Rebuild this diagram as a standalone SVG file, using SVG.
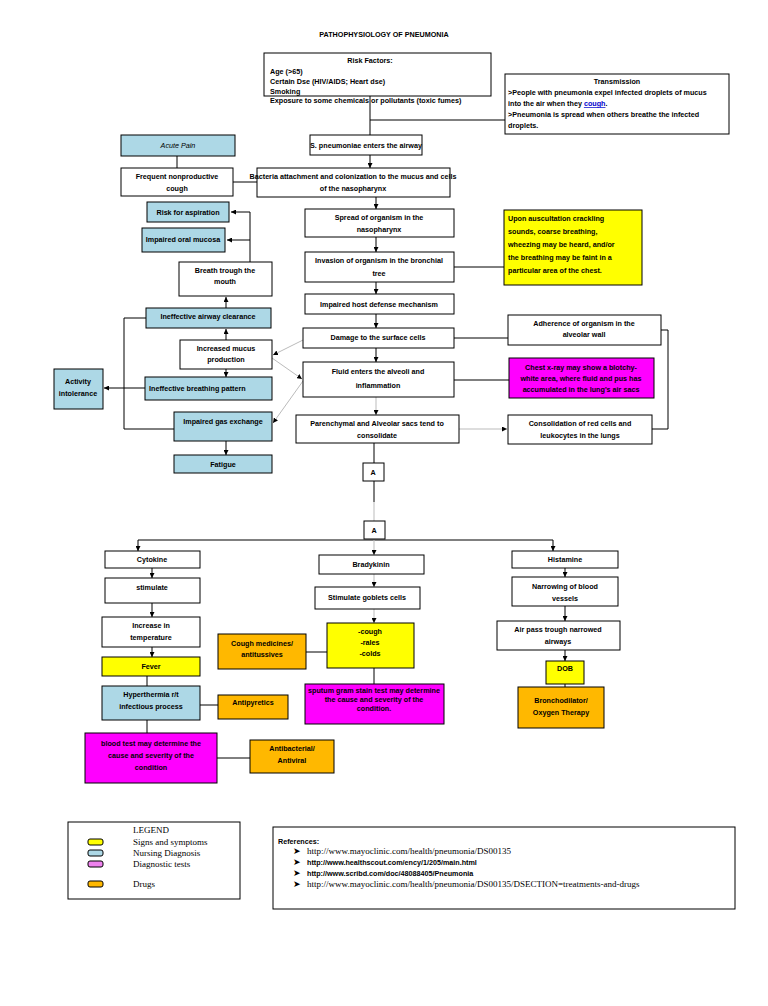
<svg xmlns="http://www.w3.org/2000/svg" width="768" height="1006" viewBox="0 0 768 1006">
<style>
text{font-family:"Liberation Sans",Arial,sans-serif;font-size:7.2px;font-weight:bold;fill:#000}
.b{fill:#fff;stroke:#000;stroke-width:1}
.bl{fill:#add8e6;stroke:#000;stroke-width:1}
.y{fill:#ffff00;stroke:#000;stroke-width:1}
.m{fill:#ff00ff;stroke:#000;stroke-width:1}
.o{fill:#ffb800;stroke:#000;stroke-width:1}
.c line,.c polyline{stroke:#000;stroke-width:1;fill:none}
.c .g{stroke:#bbb}
.s{font-family:"Liberation Serif","Times New Roman",serif;font-weight:normal;font-size:9px}
.n{font-weight:normal}
</style>
<defs><marker id="a" viewBox="0 0 6 6" refX="6" refY="3" markerWidth="5" markerHeight="5" orient="auto"><path d="M0,0L6,3L0,6z" fill="#000"/></marker></defs>
<rect width="768" height="1006" fill="#fff"/>
<text x="384" y="37" text-anchor="middle">PATHOPHYSIOLOGY OF PNEUMONIA</text>
<g class="c">
<line x1="370" y1="96" x2="370" y2="135"/><line x1="370" y1="120" x2="505" y2="120"/>
<line x1="370" y1="155" x2="370" y2="168" marker-end="url(#a)"/>
<line x1="177" y1="156" x2="177" y2="168"/><line x1="233" y1="182" x2="257" y2="182"/>
<line x1="376" y1="197" x2="376" y2="209" marker-end="url(#a)"/>
<line x1="376" y1="237" x2="376" y2="252" marker-end="url(#a)"/>
<line x1="376" y1="282" x2="376" y2="294" marker-end="url(#a)"/>
<line x1="376" y1="314" x2="376" y2="328" marker-end="url(#a)"/>
<line x1="376" y1="348" x2="376" y2="362" marker-end="url(#a)"/>
<line class="g" x1="376" y1="397" x2="376" y2="415" marker-end="url(#a)"/>
<line x1="454" y1="267" x2="504" y2="267"/>
<polyline points="250,262 250,212 231,212" marker-end="url(#a)"/>
<line x1="250" y1="240" x2="227" y2="240" marker-end="url(#a)"/>
<line x1="226" y1="308" x2="226" y2="297" marker-end="url(#a)"/>
<line x1="226" y1="340" x2="226" y2="329" marker-end="url(#a)"/>
<line x1="226" y1="369" x2="226" y2="377" marker-end="url(#a)"/>
<polyline points="146,318 124,318 124,429 174,429"/>
<line x1="145" y1="388" x2="104" y2="388" marker-end="url(#a)"/>
<line class="g" x1="303" y1="340" x2="273" y2="355" marker-end="url(#a)"/>
<line class="g" x1="272" y1="358" x2="302" y2="379" marker-end="url(#a)"/>
<line class="g" x1="303" y1="381" x2="273" y2="423" marker-end="url(#a)"/>
<line x1="226" y1="441" x2="226" y2="455" marker-end="url(#a)"/>
<line x1="454" y1="338" x2="508" y2="338"/>
<polyline points="661,330 668,330 668,429 652,429"/>
<line x1="454" y1="380" x2="509" y2="380"/>
<line class="g" x1="459" y1="429" x2="507" y2="429" marker-end="url(#a)"/>
<line x1="374" y1="443" x2="374" y2="463"/>
<line x1="374" y1="481" x2="374" y2="502"/><line class="g" x1="374" y1="502" x2="374" y2="521"/>
<line x1="138" y1="540" x2="553" y2="540"/>
<line x1="138" y1="540" x2="138" y2="551" marker-end="url(#a)"/>
<line class="g" x1="374" y1="540" x2="374" y2="555" marker-end="url(#a)"/>
<line x1="553" y1="540" x2="553" y2="551" marker-end="url(#a)"/>
<line x1="152" y1="568" x2="152" y2="578" marker-end="url(#a)"/>
<line x1="152" y1="603" x2="152" y2="617" marker-end="url(#a)"/>
<line x1="152" y1="647" x2="152" y2="657" marker-end="url(#a)"/>
<line x1="147" y1="676" x2="147" y2="686"/><line x1="147" y1="720" x2="147" y2="733"/>
<line x1="200" y1="705" x2="218" y2="705"/><line x1="217" y1="758" x2="250" y2="758"/>
<line class="g" x1="374" y1="574" x2="374" y2="587" marker-end="url(#a)"/>
<line class="g" x1="374" y1="609" x2="374" y2="623" marker-end="url(#a)"/>
<line x1="306" y1="652" x2="327" y2="652"/><line x1="374" y1="668" x2="374" y2="684"/>
<line x1="565" y1="568" x2="565" y2="577" marker-end="url(#a)"/>
<line x1="565" y1="606" x2="565" y2="621" marker-end="url(#a)"/>
<line x1="565" y1="650" x2="565" y2="661" marker-end="url(#a)"/>
<line x1="565" y1="684" x2="565" y2="687"/>
</g>
<g id="risk"><rect class="b" x="264" y="53" width="227" height="43"/><text x="370" y="63" text-anchor="middle">Risk Factors:</text><text x="270" y="74">Age (&gt;65)</text><text x="270" y="84">Certain Dse (HIV/AIDS; Heart dse)</text><text x="270" y="94">Smoking</text><text x="270" y="104" dy="-1">Exposure to some chemicals or pollutants (toxic fumes)</text></g>
<g id="trans"><rect class="b" x="505" y="74" width="224" height="60"/><text x="617" y="84" text-anchor="middle">Transmission</text><text x="508" y="95">&gt;People with pneumonia expel infected droplets of mucus</text><text x="508" y="106">into the air when they <tspan fill="#00c" text-decoration="underline">cough</tspan>.</text><text x="508" y="117">&gt;Pneumonia is spread when others breathe the infected</text><text x="508" y="128">droplets.</text></g>
<g id="pain"><rect class="bl" x="121" y="135" width="114" height="21"/><text x="178" y="148" text-anchor="middle" font-style="italic" class="n">Acute Pain</text></g>
<g id="spn"><rect class="b" x="310" y="135" width="112" height="20"/><text x="366" y="148" text-anchor="middle">S. pneumoniae enters the airway</text></g>
<g id="fnc"><rect class="b" x="121" y="168" width="112" height="28"/><text x="177" y="179" text-anchor="middle">Frequent nonproductive</text><text x="177" y="191" text-anchor="middle">cough</text></g>
<g id="bact"><rect class="b" x="257" y="168" width="193" height="29"/><text x="353" y="179" text-anchor="middle">Bacteria attachment and colonization to the mucus and cells</text><text x="353" y="191" text-anchor="middle">of the nasopharynx</text></g>
<g id="rasp"><rect class="bl" x="147" y="202" width="82" height="20"/><text x="188" y="215" text-anchor="middle">Risk for aspiration</text></g>
<g id="iom"><rect class="bl" x="142" y="228" width="83" height="24"/><text x="183" y="242" text-anchor="middle">Impaired oral mucosa</text></g>
<g id="spread"><rect class="b" x="305" y="209" width="149" height="28"/><text x="379" y="220" text-anchor="middle">Spread of organism in the</text><text x="379" y="232" text-anchor="middle">nasopharynx</text></g>
<g id="ausc"><rect class="y" x="504" y="210" width="138" height="75"/><text x="508" y="221">Upon auscultation crackling</text><text x="508" y="234">sounds, coarse breathing,</text><text x="508" y="247">wheezing may be heard, and/or</text><text x="508" y="260">the breathing may be faint in a</text><text x="508" y="273">particular area of the chest.</text></g>
<g id="inv"><rect class="b" x="305" y="252" width="149" height="30"/><text x="379" y="263" text-anchor="middle">Invasion of organism in the bronchial</text><text x="379" y="276" text-anchor="middle">tree</text></g>
<g id="btm"><rect class="b" x="179" y="262" width="93" height="34"/><text x="225" y="273" text-anchor="middle">Breath trough the</text><text x="225" y="284" text-anchor="middle">mouth</text></g>
<g id="ihd"><rect class="b" x="305" y="294" width="149" height="20"/><text x="379" y="307" text-anchor="middle">Impaired host defense mechanism</text></g>
<g id="iac"><rect class="bl" x="146" y="308" width="125" height="20"/><text x="208" y="319" text-anchor="middle">Ineffective airway clearance</text></g>
<g id="dmg"><rect class="b" x="303" y="328" width="151" height="20"/><text x="378" y="340" text-anchor="middle">Damage to the surface cells</text></g>
<g id="adh"><rect class="b" x="508" y="315" width="153" height="30"/><text x="584" y="326" text-anchor="middle">Adherence of organism in the</text><text x="584" y="337" text-anchor="middle">alveolar wall</text></g>
<g id="imp"><rect class="b" x="180" y="340" width="92" height="29"/><text x="226" y="351" text-anchor="middle">Increased mucus</text><text x="226" y="362" text-anchor="middle">production</text></g>
<g id="fluid"><rect class="b" x="303" y="362" width="151" height="35"/><text x="378" y="374" text-anchor="middle" font-size="8.5">Fluid enters the alveoli and</text><text x="378" y="388" text-anchor="middle" font-size="8.5">inflammation</text></g>
<g id="cxr"><rect class="m" x="509" y="358" width="145" height="40"/><text x="581" y="370" text-anchor="middle">Chest x-ray may show a blotchy-</text><text x="581" y="381" text-anchor="middle">white area, where fluid and pus has</text><text x="581" y="392" text-anchor="middle">accumulated in the lung's air sacs</text></g>
<g id="ai"><rect class="bl" x="54" y="369" width="49" height="40"/><text x="78" y="384" text-anchor="middle">Activity</text><text x="78" y="396" text-anchor="middle">intolerance</text></g>
<g id="ibp"><rect class="bl" x="145" y="377" width="127" height="23"/><text x="149" y="391">Ineffective   breathing pattern</text></g>
<g id="ige"><rect class="bl" x="174" y="412" width="98" height="29"/><text x="223" y="424" text-anchor="middle">Impaired gas exchange</text></g>
<g id="par"><rect class="b" x="296" y="415" width="163" height="28"/><text x="377" y="426" text-anchor="middle">Parenchymal and Alveolar sacs tend to</text><text x="377" y="438" text-anchor="middle">consolidate</text></g>
<g id="cons"><rect class="b" x="508" y="415" width="144" height="29"/><text x="580" y="426" text-anchor="middle">Consolidation of red cells and</text><text x="580" y="438" text-anchor="middle">leukocytes in the lungs</text></g>
<g id="fat"><rect class="bl" x="174" y="455" width="98" height="18"/><text x="223" y="467" text-anchor="middle">Fatigue</text></g>
<g id="a1"><rect class="b" x="363" y="463" width="21" height="18"/><text x="373" y="475" text-anchor="middle">A</text></g>
<g id="a2"><rect class="b" x="364" y="521" width="21" height="18"/><text x="374" y="533" text-anchor="middle">A</text></g>
<g id="cyt"><rect class="b" x="105" y="551" width="95" height="17"/><text x="152" y="562" text-anchor="middle">Cytokine</text></g>
<g id="brady"><rect class="b" x="319" y="555" width="105" height="19"/><text x="371" y="567" text-anchor="middle">Bradykinin</text></g>
<g id="hist"><rect class="b" x="512" y="551" width="106" height="17"/><text x="565" y="562" text-anchor="middle">Histamine</text></g>
<g id="stim"><rect class="b" x="105" y="578" width="95" height="25"/><text x="152" y="590" text-anchor="middle">stimulate</text></g>
<g id="gob"><rect class="b" x="315" y="587" width="105" height="22"/><text x="367" y="600" text-anchor="middle">Stimulate goblets cells</text></g>
<g id="narr"><rect class="b" x="512" y="577" width="106" height="29"/><text x="565" y="589" text-anchor="middle">Narrowing of blood</text><text x="565" y="601" text-anchor="middle">vessels</text></g>
<g id="inc"><rect class="b" x="102" y="617" width="98" height="30"/><text x="151" y="628" text-anchor="middle">Increase in</text><text x="151" y="640" text-anchor="middle">temperature</text></g>
<g id="air"><rect class="b" x="497" y="621" width="123" height="29"/><text x="558" y="632" text-anchor="middle">Air pass trough narrowed</text><text x="558" y="644" text-anchor="middle">airways</text></g>
<g id="cough"><rect class="y" x="327" y="623" width="87" height="45"/><text x="370" y="634" text-anchor="middle">-cough</text><text x="370" y="645" text-anchor="middle">-rales</text><text x="370" y="656" text-anchor="middle">-colds</text></g>
<g id="cm"><rect class="o" x="218" y="634" width="88" height="35"/><text x="262" y="646" text-anchor="middle">Cough medicines/</text><text x="262" y="657" text-anchor="middle">antitussives</text></g>
<g id="fever"><rect class="y" x="102" y="657" width="98" height="19"/><text x="151" y="669" text-anchor="middle">Fever</text></g>
<g id="dob"><rect class="y" x="546" y="661" width="38" height="23"/><text x="565" y="671" text-anchor="middle">DOB</text></g>
<g id="hyp"><rect class="bl" x="102" y="686" width="98" height="34"/><text x="151" y="697" text-anchor="middle">Hyperthermia r/t</text><text x="151" y="709" text-anchor="middle">infectious process</text></g>
<g id="antip"><rect class="o" x="218" y="695" width="70" height="24"/><text x="253" y="705" text-anchor="middle">Antipyretics</text></g>
<g id="sput"><rect class="m" x="305" y="684" width="139" height="40"/><text x="374" y="693" text-anchor="middle" font-size="6">sputum gram stain test may determine</text><text x="374" y="702" text-anchor="middle" font-size="6">the cause and severity of the</text><text x="374" y="711" text-anchor="middle" font-size="6">condition.</text></g>
<g id="bron"><rect class="o" x="518" y="687" width="86" height="41"/><text x="561" y="703" text-anchor="middle">Bronchodilator/</text><text x="561" y="715" text-anchor="middle">Oxygen Therapy</text></g>
<g id="blood"><rect class="m" x="85" y="733" width="132" height="50"/><text x="151" y="746" text-anchor="middle">blood test may determine the</text><text x="151" y="758" text-anchor="middle">cause and severity of the</text><text x="151" y="770" text-anchor="middle">condition</text></g>
<g id="antib"><rect class="o" x="250" y="740" width="84" height="33"/><text x="292" y="751" text-anchor="middle">Antibacterial/</text><text x="292" y="763" text-anchor="middle">Antiviral</text></g>
<g id="legend"><rect class="b" x="68" y="822" width="172" height="77"/><text x="133" y="833" class="s">LEGEND</text>
<rect x="88" y="839" width="15" height="6" rx="2" class="y"/><text x="133" y="845" class="s" font-size="8">Signs and symptoms</text>
<rect x="88" y="850" width="15" height="6" rx="2" class="bl"/><text x="133" y="856" class="s">Nursing Diagnosis</text>
<rect x="88" y="861" width="15" height="6" rx="2" fill="#ee82ee" stroke="#000"/><text x="133" y="867" class="s">Diagnostic tests</text>
<rect x="88" y="881" width="15" height="6" rx="2" class="o"/><text x="133" y="887" class="s">Drugs</text></g>
<g id="refs"><rect class="b" x="273" y="827" width="462" height="82"/><text x="278" y="844" font-size="6.5">References:</text>
<text x="293" y="854" class="s">➤</text><text x="307" y="854" class="s">http://www.mayoclinic.com/health/pneumonia/DS00135</text>
<text x="293" y="865" class="s">➤</text><text x="307" y="865" font-size="6.5">http://www.healthscout.com/ency/1/205/main.html</text>
<text x="293" y="876" class="s">➤</text><text x="307" y="876" font-size="6.5">http://www.scribd.com/doc/48088405/Pneumonia</text>
<text x="293" y="887" class="s">➤</text><text x="307" y="887" class="s">http://www.mayoclinic.com/health/pneumonia/DS00135/DSECTION=treatments-and-drugs</text></g>
</svg>
